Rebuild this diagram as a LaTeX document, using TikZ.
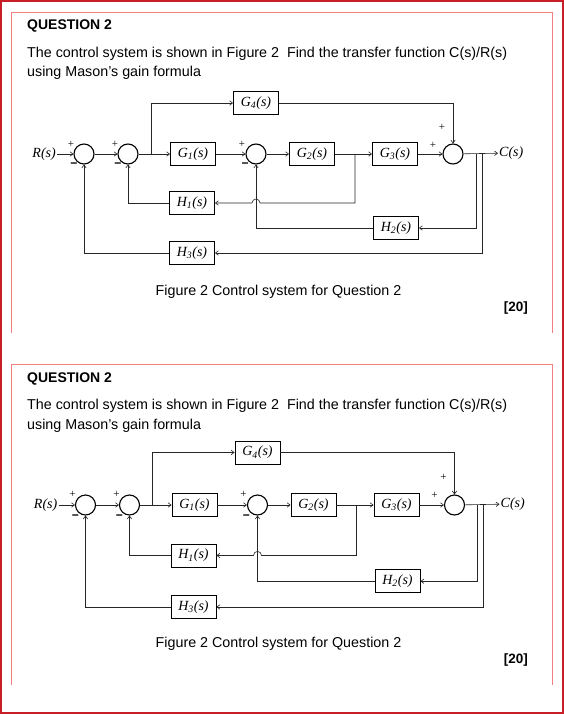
\documentclass[tikz,border=0pt]{standalone}
\usepackage{fontspec}
\setmainfont{Liberation Sans}
\newfontfamily\tms{Liberation Serif}
\usetikzlibrary{arrows.meta}
\newcommand\blocklab[2]{#1\textsubscript{#2}(s)}
\newcommand\mydiagram{%
  \node[sumj] (s1) at (84,0) {};
  \node[sumj] (s2) at (128,0) {};
  \node[sumj] (s3) at (256,0) {};
  \node[sumj] (s4) at (453,0) {};
  \node[blk] (g1) at (193,0) {\blocklab{G}{1}};
  \node[blk] (g2) at (312,0) {\blocklab{G}{2}};
  \node[blk] (g3) at (395,0) {\blocklab{G}{3}};
  \node[blk] (g4) at (256,-51) {\blocklab{G}{4}};
  \node[blk] (h1) at (192,49) {\blocklab{H}{1}};
  \node[blk] (h2) at (396,74) {\blocklab{H}{2}};
  \node[blk] (h3) at (192,99) {\blocklab{H}{3}};
  \node[lab, anchor=east] (r) at (57,0) {R(s)};
  \node[lab, anchor=west] (c) at (498,-1) {C(s)};
  \coordinate (b1) at (151,0);
  \coordinate (b2) at (355,0);
  \coordinate (b3) at (476,0);
  \coordinate (b4) at (482,0);
  \coordinate (hop) at (256,49);
  \node[sign] (p1) at (71,-10) {+};
  \node[msign] (m1) at (74,11.5) {\textminus};
  \node[sign] (p2) at (115,-10) {+};
  \node[msign] (m2) at (118,11.5) {\textminus};
  \node[sign] (p3) at (242,-10) {+};
  \node[msign] (m3) at (245,11.5) {\textminus};
  \node[sign] (p4) at (433,-9) {+};
  \node[sign] (p5) at (442,-27) {+};
  \draw[sig] (r) -- (s1);
  \draw[sig] (s1) -- (s2);
  \draw[sig] (s2) -- (g1);
  \draw[sig] (b1) |- (g4);
  \draw[sig] (g1) -- (s3);
  \draw[sig] (s3) -- (g2);
  \draw[sig] (g2) -- (g3);
  \draw[sig] (g4) -| (s4);
  \draw[sig] (g3) -- (s4);
  \draw[sig] (s4) -- (c);
  \draw[sig] (b2) -- (b2 |- h1) -- ([xshift=4pt]hop) arc[start angle=0,end angle=180,radius=4pt] -- (h1);
  \draw[sig] (h1) -| (s2);
  \draw[sig] (b3) |- (h2);
  \draw[sig] (h2) -| (s3);
  \draw[sig] (b4) |- (h3);
  \draw[sig] (h3) -| (s1);
}
\newcommand\mypanel{%
  \draw[inner] (11.5,333) -- (11.5,12.5) -- (552.5,12.5) -- (552.5,333);
  \node[anchor=base west, inner sep=0pt, font=\bfseries\fontsize{14}{14}\selectfont] (q) at (27,30) {QUESTION 2};
  \node[txt, anchor=base west] (t1) at (27,57.5) {The control system is shown in Figure 2\ \ Find the transfer function C(s)/R(s)};
  \node[txt, anchor=base west] (t2) at (27,77) {using Mason’s gain formula};
  \node[txt, anchor=base] (cap) at (278.5,295) {Figure 2 Control system for Question 2};
  \node[anchor=base east, inner sep=0pt, font=\bfseries\fontsize{13.5}{13.5}\selectfont] (pts) at (528,311) {[20]};
}
\begin{document}
\begin{tikzpicture}[x=1pt,y=-1pt,
  blk/.style={draw, line width=0.9pt, minimum width=45pt, minimum height=23pt, inner sep=0pt, font=\tms\itshape\fontsize{14}{14}\selectfont},
  sumj/.style={draw, circle, line width=1.1pt, minimum size=20pt, inner sep=0pt},
  sig/.style={line width=0.6pt, draw=black!85, -{Straight Barb[length=3pt,width=4.5pt]}},
  sign/.style={font=\tms\fontsize{11}{11}\selectfont, inner sep=0pt},
  msign/.style={font=\bfseries\fontsize{12}{12}\selectfont, inner sep=0pt},
  lab/.style={font=\tms\itshape\fontsize{14}{14}\selectfont, inner sep=1pt},
  txt/.style={font=\fontsize{14.3}{14.3}\selectfont, inner sep=0pt},
  inner/.style={draw={rgb,255:red,238;green,128;blue,128}, line width=1.6pt},
  outer/.style={draw={rgb,255:red,200;green,30;blue,40}, line width=1.8pt}]
\useasboundingbox (0,0) rectangle (564,714);
\fill[white] (0,0) rectangle (564,714);
\begin{scope}[name prefix=a-]
  \mypanel
  \begin{scope}[shift={(0,154)}]
    \mydiagram
  \end{scope}
\end{scope}
\begin{scope}[name prefix=b-, shift={(0,352)}]
  \mypanel
\end{scope}
\begin{scope}[name prefix=c-, shift={(1.5,505)}, yscale=1.03]
  \mydiagram
\end{scope}
\draw[outer] (0.9,0.9) rectangle (563.1,713.1);
\end{tikzpicture}
\end{document}
